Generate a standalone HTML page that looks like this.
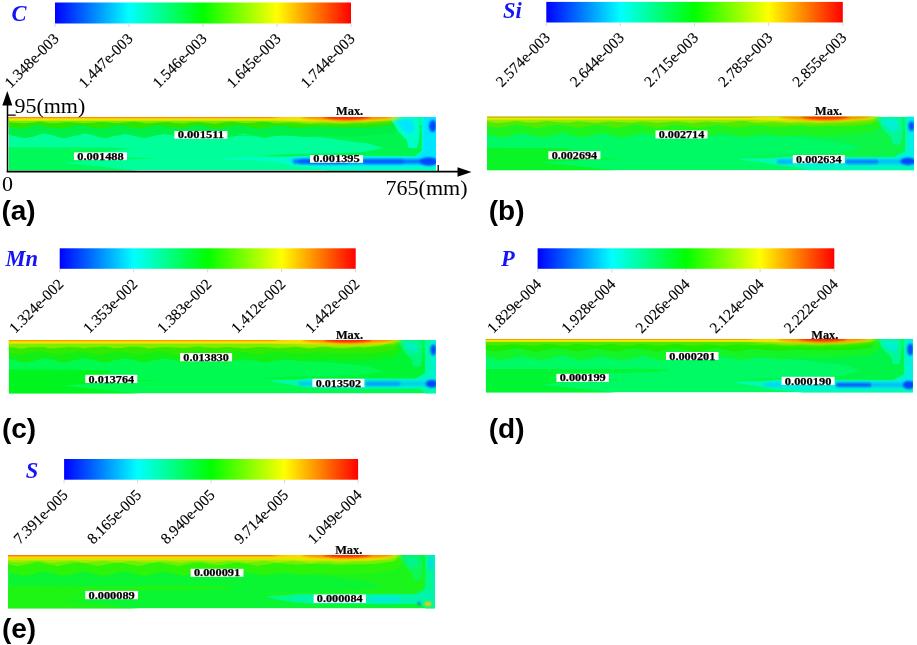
<!DOCTYPE html>
<html><head><meta charset="utf-8"><title>Figure</title>
<style>
html,body{margin:0;padding:0;background:#fff;}
body{width:917px;height:645px;overflow:hidden;}
svg{display:block;}
text{font-family:"Liberation Serif",serif;fill:#000;}
.el{font-weight:bold;font-style:italic;fill:#1414f5;}
.tk{font-size:15.3px;stroke:#000;stroke-width:0.15px;}
.ax{font-size:22px;}
.lb{font-size:11px;font-weight:bold;stroke:#000;stroke-width:0.25px;}
.mx{font-size:12.4px;font-weight:bold;stroke:#000;stroke-width:0.2px;}
.pl{font-family:"Liberation Sans",sans-serif;font-weight:bold;font-size:28px;}
</style></head><body>
<svg width="917" height="645" viewBox="0 0 917 645">
<defs>
<linearGradient id="rb" x1="0" x2="1" y1="0" y2="0">
<stop offset="0" stop-color="#0000ff"/><stop offset="0.25" stop-color="#00ffff"/><stop offset="0.5" stop-color="#00ff00"/><stop offset="0.75" stop-color="#ffff00"/><stop offset="1" stop-color="#ff0000"/>
</linearGradient>
<linearGradient id="fd" x1="0" x2="1" y1="0" y2="0"><stop offset="0" stop-color="#fff"/><stop offset="1" stop-color="#000"/></linearGradient>
<mask id="fade" maskContentUnits="objectBoundingBox"><rect width="1" height="1" fill="url(#fd)"/></mask>
<clipPath id="cp"><rect x="0" y="0" width="427" height="53.5"/></clipPath>
<filter id="b0" x="-20%" y="-50%" width="140%" height="200%"><feGaussianBlur stdDeviation="0.6"/></filter>
<filter id="b1" x="-30%" y="-80%" width="160%" height="260%"><feGaussianBlur stdDeviation="1.3"/></filter>
<filter id="b2" x="-30%" y="-80%" width="160%" height="260%"><feGaussianBlur stdDeviation="2.2"/></filter>

<linearGradient id="tga" x1="0" x2="0" y1="0" y2="1"><stop offset="0" stop-color="#ff6e00"/><stop offset="0.22" stop-color="#ffaa00"/><stop offset="0.45" stop-color="#f5e600"/><stop offset="0.8" stop-color="#d2eb00"/><stop offset="1" stop-color="#d2eb00" stop-opacity="0"/></linearGradient>
<linearGradient id="tgb" x1="0" x2="0" y1="0" y2="1"><stop offset="0" stop-color="#ff6e00"/><stop offset="0.22" stop-color="#ffaa00"/><stop offset="0.45" stop-color="#f5e600"/><stop offset="0.8" stop-color="#d2eb00"/><stop offset="1" stop-color="#d2eb00" stop-opacity="0"/></linearGradient>
<linearGradient id="tgc" x1="0" x2="0" y1="0" y2="1"><stop offset="0" stop-color="#ff6e00"/><stop offset="0.22" stop-color="#ffaa00"/><stop offset="0.45" stop-color="#f5e600"/><stop offset="0.8" stop-color="#d2eb00"/><stop offset="1" stop-color="#d2eb00" stop-opacity="0"/></linearGradient>
<linearGradient id="tgd" x1="0" x2="0" y1="0" y2="1"><stop offset="0" stop-color="#ff6e00"/><stop offset="0.22" stop-color="#ffaa00"/><stop offset="0.45" stop-color="#f5e600"/><stop offset="0.8" stop-color="#d2eb00"/><stop offset="1" stop-color="#d2eb00" stop-opacity="0"/></linearGradient>
<linearGradient id="tge" x1="0" x2="0" y1="0" y2="1"><stop offset="0" stop-color="#ff5000"/><stop offset="0.22" stop-color="#ffaa00"/><stop offset="0.45" stop-color="#ffd200"/><stop offset="0.8" stop-color="#d2eb00"/><stop offset="1" stop-color="#d2eb00" stop-opacity="0"/></linearGradient>
</defs>
<rect width="917" height="645" fill="#fff"/>
<rect x="55" y="2.5" width="296" height="21" fill="url(#rb)"/>
<text x="11.6" y="21.0" class="el" font-size="22.5">C</text>
<line x1="55.0" y1="23.5" x2="55.0" y2="27.0" stroke="#ccc" stroke-width="0.8"/>
<text class="tk" text-anchor="end" transform="translate(59.6,39.7) rotate(-45)">1.348e-003</text>
<line x1="129.0" y1="23.5" x2="129.0" y2="27.0" stroke="#ccc" stroke-width="0.8"/>
<text class="tk" text-anchor="end" transform="translate(133.6,39.7) rotate(-45)">1.447e-003</text>
<line x1="203.0" y1="23.5" x2="203.0" y2="27.0" stroke="#ccc" stroke-width="0.8"/>
<text class="tk" text-anchor="end" transform="translate(207.6,39.7) rotate(-45)">1.546e-003</text>
<line x1="277.0" y1="23.5" x2="277.0" y2="27.0" stroke="#ccc" stroke-width="0.8"/>
<text class="tk" text-anchor="end" transform="translate(281.6,39.7) rotate(-45)">1.645e-003</text>
<line x1="351.0" y1="23.5" x2="351.0" y2="27.0" stroke="#ccc" stroke-width="0.8"/>
<text class="tk" text-anchor="end" transform="translate(355.6,39.7) rotate(-45)">1.744e-003</text>
<g transform="translate(8.8,117)"><g clip-path="url(#cp)">
<rect x="0" y="0" width="427" height="53.5" fill="#00ff9b"/>
<path d="M-2.0,30.3 L102.0,30.6 L122.0,31.3 L108.0,33.3 L88.0,35.8 L70.0,38.8 L118.0,40.5 L150.0,41.3 L118.0,42.3 L85.0,43.8 L54.0,45.8 L90.0,49.3 L135.0,54.5 L-2.0,54.5 Z" fill="#00fa5a"/>
<path d="M212.0,19.0 L413.0,8.0 L413.5,38.5 L407.0,39.5 L292.0,40.0 L250.0,39.0 L281.0,37.0 L320.0,36.5 L355.0,35.0 L374.0,31.0 L360.0,26.5 L339.0,24.0 L316.0,20.8 L281.0,18.7 Z" fill="#00f550" filter="url(#b0)"/>
<path d="M-5.0,-2.0 L-5.0,16.6 L0.0,17.5 L5.0,18.9 L10.0,20.1 L15.0,21.3 L20.0,20.4 L25.0,19.5 L30.0,18.1 L35.0,16.5 L40.0,17.5 L45.0,18.4 L50.0,20.3 L55.0,21.5 L60.0,20.3 L65.0,19.1 L70.0,18.2 L75.0,16.6 L80.0,17.3 L85.0,18.5 L90.0,19.9 L95.0,21.2 L100.0,20.8 L105.0,19.0 L110.0,18.4 L115.0,16.9 L120.0,17.8 L125.0,19.0 L130.0,19.7 L135.0,21.3 L140.0,20.2 L145.0,18.9 L150.0,18.0 L155.0,17.0 L160.0,17.6 L165.0,18.5 L170.0,20.2 L175.0,21.4 L180.0,20.3 L185.0,19.2 L190.0,18.1 L195.0,17.1 L200.0,17.3 L205.0,18.8 L210.0,20.3 L215.0,21.2 L220.0,20.6 L225.0,19.4 L230.0,18.0 L235.0,16.7 L240.0,17.6 L245.0,18.8 L250.0,19.8 L255.0,21.1 L260.0,20.1 L265.0,19.2 L270.0,18.5 L275.0,17.8 L280.0,18.4 L285.0,19.0 L290.0,19.3 L295.0,20.3 L300.0,19.9 L305.0,19.2 L310.0,18.9 L315.0,18.4 L320.0,18.6 L325.0,19.0 L330.0,19.0 L335.0,19.7 L367.0,18.0 L385.0,16.0 L395.0,8.0 L393.0,-2.0 L393.0,-2.0 Z" fill="#00f046"/>
<path d="M-5.0,-2.0 L-5.0,8.9 L0.0,10.2 L5.0,10.8 L10.0,12.0 L15.0,11.1 L20.0,10.1 L25.0,9.1 L30.0,7.9 L35.0,9.4 L40.0,10.2 L45.0,10.8 L50.0,11.5 L55.0,10.9 L60.0,10.1 L65.0,9.3 L70.0,8.0 L75.0,9.0 L80.0,9.8 L85.0,10.8 L90.0,11.6 L95.0,11.2 L100.0,9.8 L105.0,9.1 L110.0,7.9 L115.0,9.3 L120.0,9.7 L125.0,10.6 L130.0,11.8 L135.0,11.2 L140.0,10.1 L145.0,9.3 L150.0,8.2 L155.0,9.4 L160.0,9.8 L165.0,10.6 L170.0,11.9 L175.0,10.9 L180.0,9.8 L185.0,8.8 L190.0,8.3 L195.0,8.9 L200.0,9.7 L205.0,11.2 L210.0,12.1 L215.0,10.7 L220.0,9.7 L225.0,9.3 L230.0,8.2 L235.0,9.3 L240.0,9.7 L245.0,11.2 L250.0,11.8 L255.0,11.0 L260.0,9.7 L265.0,9.3 L270.0,9.0 L275.0,9.1 L280.0,10.1 L285.0,10.5 L290.0,11.0 L295.0,10.5 L300.0,9.9 L305.0,9.9 L310.0,9.4 L315.0,9.8 L320.0,10.2 L325.0,10.3 L330.0,10.3 L335.0,10.5 L367.0,10.0 L385.0,7.5 L389.0,4.0 L387.0,-2.0 L387.0,-2.0 Z" fill="#2de600"/>
<path d="M-5.0,-2.0 L-5.0,5.2 L0.0,5.3 L5.0,5.8 L10.0,6.0 L15.0,6.2 L20.0,5.9 L25.0,5.4 L30.0,4.5 L35.0,5.1 L40.0,6.2 L45.0,6.2 L50.0,6.0 L55.0,5.3 L60.0,4.9 L65.0,5.4 L70.0,5.8 L75.0,6.2 L80.0,6.0 L85.0,5.7 L90.0,5.1 L95.0,4.9 L100.0,5.5 L105.0,6.1 L110.0,6.2 L115.0,5.6 L120.0,5.3 L125.0,4.4 L130.0,5.3 L135.0,6.0 L140.0,6.6 L145.0,5.9 L150.0,5.4 L155.0,5.2 L160.0,4.9 L165.0,5.9 L170.0,6.0 L175.0,6.5 L180.0,5.4 L185.0,5.3 L190.0,5.0 L195.0,5.4 L200.0,6.0 L205.0,6.8 L210.0,6.3 L215.0,5.2 L220.0,4.8 L225.0,4.8 L230.0,5.6 L235.0,6.0 L240.0,5.9 L245.0,5.7 L250.0,4.7 L255.0,4.7 L260.0,5.1 L265.0,6.3 L270.0,6.2 L275.0,5.5 L280.0,5.3 L285.0,4.9 L290.0,5.4 L295.0,5.9 L300.0,6.4 L305.0,6.2 L310.0,5.4 L315.0,5.2 L320.0,5.2 L325.0,5.9 L330.0,6.4 L335.0,6.5 L340.0,5.7 L345.0,5.2 L350.0,5.0 L355.0,5.4 L372.0,3.6 L383.0,2.0 L381.0,-2.0 L381.0,-2.0 Z" fill="#78eb00"/>
<path d="M381.0,1.0 L400.0,-1.0 L409.0,1.0 L411.0,12.0 L410.0,24.0 L408.0,31.0 L400.0,31.0 L398.0,23.0 L390.0,15.0 L385.0,7.0 Z" fill="#00ffc8" filter="url(#b0)" opacity="1.00"/>
<path d="M386.0,3.0 L404.0,2.5 L406.0,14.0 L399.0,17.0 L391.0,9.0 Z" fill="#00e6ff" filter="url(#b1)" opacity="1.00"/>
<path d="M216.0,41.1 L275.0,40.3 L290.0,38.9 L407.0,39.2 L413.0,33.5 L413.0,-2.0 L429.0,-2.0 L429.0,55.5 L327.0,55.5 L305.0,51.0 L285.0,49.0 L267.0,44.5 L216.0,41.9 Z" fill="#00ffc8" filter="url(#b0)"/>
<path d="M277.0,42.0 L293.0,40.3 L407.0,40.3 L414.5,34.5 L414.5,-2.0 L429.0,-2.0 L429.0,49.0 L310.0,49.0 L287.0,46.5 Z" fill="#00e6ff" filter="url(#b1)" opacity="1.00"/>
<rect x="284" y="42.3" width="146" height="4.4" rx="2" fill="#0078ff" filter="url(#b1)" opacity="1.0"/>
<rect x="290" y="42.3" width="50" height="4.4" rx="2" fill="#0050ff" filter="url(#b1)" opacity="0.7"/>
<rect x="355" y="42.3" width="40" height="4.4" rx="2" fill="#0050ff" filter="url(#b1)" opacity="0.6"/>
<ellipse cx="424" cy="9" rx="3.8" ry="6" fill="#0046ff" filter="url(#b1)" opacity="1.0"/>
<ellipse cx="420" cy="44.5" rx="9" ry="4" fill="#0046ff" filter="url(#b1)" opacity="1.0"/>

<rect x="0" y="0" width="365" height="4.2" fill="url(#tga)"/>
<rect x="364.8" y="0" width="24" height="4.2" fill="url(#tga)" mask="url(#fade)"/>
<ellipse cx="328" cy="-0.5" rx="64" ry="5.6" fill="#f5e600" filter="url(#b2)" opacity="0.95"/>
<ellipse cx="338" cy="-0.5" rx="46" ry="3.9" fill="#ff8c00" filter="url(#b1)"/>
<ellipse cx="338" cy="-0.8" rx="24" ry="3.5" fill="#ff2800" filter="url(#b1)"/>
</g>
<rect x="65.2" y="35.4" width="53" height="7.7" fill="#fff"/><text class="lb" x="91.7" y="42.7" text-anchor="middle" textLength="46.5" lengthAdjust="spacingAndGlyphs">0.001488</text>
<rect x="165.6" y="14.0" width="53" height="7.7" fill="#fff"/><text class="lb" x="192.1" y="21.3" text-anchor="middle" textLength="46.5" lengthAdjust="spacingAndGlyphs">0.001511</text>
<rect x="301.2" y="38.0" width="53" height="7.8" fill="#fff"/><text class="lb" x="327.7" y="45.4" text-anchor="middle" textLength="46.5" lengthAdjust="spacingAndGlyphs">0.001395</text>
<text class="mx" x="327.2" y="-2.2">Max.</text>
</g>
<path d="M7.5,172 L7.5,104" stroke="#000" stroke-width="1.5" fill="none"/>
<path d="M7.3,91 L2.3,105.5 L12.3,105.5 Z" fill="#000"/>
<path d="M6.7,171.6 L458,171.6" stroke="#000" stroke-width="1.6" fill="none"/>
<path d="M471.5,172 L457.5,167.3 L457.5,176.7 Z" fill="#000"/>
<path d="M7.5,115.2 L15.7,115.2 M438.2,165 L438.2,172" stroke="#000" stroke-width="1.3" fill="none"/>
<text class="ax" x="14.4" y="112.6">95(mm)</text>
<text class="ax" x="2" y="190.8">0</text>
<text class="ax" x="385.6" y="194.5">765(mm)</text>
<text class="pl" x="1.4" y="220.3">(a)</text>
<rect x="546.3" y="1.9" width="296.5" height="20.6" fill="url(#rb)"/>
<text x="503" y="17.7" class="el" font-size="22.5">Si</text>
<line x1="546.3" y1="22.5" x2="546.3" y2="26.0" stroke="#ccc" stroke-width="0.8"/>
<text class="tk" text-anchor="end" transform="translate(550.9,38.7) rotate(-45)">2.574e-003</text>
<line x1="620.4" y1="22.5" x2="620.4" y2="26.0" stroke="#ccc" stroke-width="0.8"/>
<text class="tk" text-anchor="end" transform="translate(625.0,38.7) rotate(-45)">2.644e-003</text>
<line x1="694.5" y1="22.5" x2="694.5" y2="26.0" stroke="#ccc" stroke-width="0.8"/>
<text class="tk" text-anchor="end" transform="translate(699.1,38.7) rotate(-45)">2.715e-003</text>
<line x1="768.7" y1="22.5" x2="768.7" y2="26.0" stroke="#ccc" stroke-width="0.8"/>
<text class="tk" text-anchor="end" transform="translate(773.3,38.7) rotate(-45)">2.785e-003</text>
<line x1="842.8" y1="22.5" x2="842.8" y2="26.0" stroke="#ccc" stroke-width="0.8"/>
<text class="tk" text-anchor="end" transform="translate(847.4,38.7) rotate(-45)">2.855e-003</text>
<g transform="translate(487,116.8)"><g clip-path="url(#cp)">
<rect x="0" y="0" width="427" height="53.5" fill="#00fa64"/>
<path d="M-2.0,31.0 L60.0,31.3 L80.0,32.0 L88.0,34.0 L76.0,36.5 L58.0,39.5 L106.0,41.2 L138.0,42.0 L106.0,43.0 L73.0,44.5 L54.0,45.8 L90.0,49.3 L135.0,54.5 L-2.0,54.5 Z" fill="#0af528"/>
<path d="M212.0,18.5 L418.0,8.0 L418.5,39.5 L407.0,40.5 L292.0,41.0 L250.0,40.0 L281.0,38.0 L320.0,37.5 L355.0,36.0 L374.0,31.0 L360.0,26.5 L339.0,24.0 L316.0,20.3 L281.0,18.2 Z" fill="#0af546" filter="url(#b0)"/>
<path d="M-5.0,-2.0 L-5.0,16.4 L0.0,16.8 L5.0,18.6 L10.0,19.8 L15.0,20.6 L20.0,20.1 L25.0,18.5 L30.0,17.3 L35.0,16.2 L40.0,17.2 L45.0,18.1 L50.0,19.8 L55.0,20.4 L60.0,19.7 L65.0,18.5 L70.0,17.7 L75.0,16.2 L80.0,17.0 L85.0,18.1 L90.0,19.6 L95.0,20.6 L100.0,19.7 L105.0,18.7 L110.0,17.4 L115.0,16.1 L120.0,17.3 L125.0,18.4 L130.0,19.6 L135.0,20.9 L140.0,19.9 L145.0,18.7 L150.0,17.5 L155.0,16.3 L160.0,17.2 L165.0,17.9 L170.0,19.4 L175.0,20.7 L180.0,19.8 L185.0,18.4 L190.0,17.7 L195.0,16.0 L200.0,17.1 L205.0,18.0 L210.0,19.1 L215.0,20.4 L220.0,19.6 L225.0,18.5 L230.0,17.7 L235.0,16.5 L240.0,17.0 L245.0,18.4 L250.0,19.4 L255.0,20.4 L260.0,19.9 L265.0,18.6 L270.0,18.1 L275.0,17.2 L280.0,17.7 L285.0,18.0 L290.0,18.7 L295.0,19.2 L300.0,19.0 L305.0,18.9 L310.0,18.4 L315.0,18.1 L320.0,17.9 L325.0,18.6 L330.0,18.9 L335.0,19.3 L367.0,17.5 L385.0,15.5 L395.0,8.0 L393.0,-2.0 L393.0,-2.0 Z" fill="#1ef51e"/>
<path d="M-5.0,-2.0 L-5.0,8.5 L0.0,9.7 L5.0,10.3 L10.0,11.0 L15.0,10.4 L20.0,9.7 L25.0,8.7 L30.0,7.4 L35.0,8.6 L40.0,9.3 L45.0,10.1 L50.0,11.6 L55.0,10.5 L60.0,9.4 L65.0,8.8 L70.0,7.9 L75.0,8.3 L80.0,9.4 L85.0,10.3 L90.0,11.0 L95.0,10.6 L100.0,9.8 L105.0,8.6 L110.0,7.9 L115.0,8.6 L120.0,9.4 L125.0,10.4 L130.0,11.5 L135.0,10.2 L140.0,9.5 L145.0,8.3 L150.0,7.7 L155.0,8.7 L160.0,9.4 L165.0,10.1 L170.0,11.6 L175.0,10.6 L180.0,9.7 L185.0,8.4 L190.0,8.0 L195.0,8.6 L200.0,9.3 L205.0,10.3 L210.0,11.0 L215.0,10.6 L220.0,9.8 L225.0,8.9 L230.0,7.9 L235.0,8.6 L240.0,9.4 L245.0,10.5 L250.0,10.8 L255.0,10.0 L260.0,9.5 L265.0,8.7 L270.0,8.6 L275.0,9.0 L280.0,9.2 L285.0,10.1 L290.0,10.1 L295.0,10.3 L300.0,9.6 L305.0,9.4 L310.0,8.8 L315.0,8.9 L320.0,9.7 L325.0,9.9 L330.0,9.8 L335.0,9.5 L367.0,9.5 L385.0,7.0 L389.0,4.0 L387.0,-2.0 L387.0,-2.0 Z" fill="#50eb00"/>
<path d="M-5.0,-2.0 L-5.0,4.8 L0.0,4.5 L5.0,5.4 L10.0,6.1 L15.0,5.7 L20.0,5.5 L25.0,4.6 L30.0,4.2 L35.0,4.9 L40.0,5.7 L45.0,5.9 L50.0,5.6 L55.0,4.9 L60.0,4.2 L65.0,4.7 L70.0,5.2 L75.0,5.8 L80.0,6.0 L85.0,5.5 L90.0,4.4 L95.0,4.9 L100.0,5.2 L105.0,6.0 L110.0,6.2 L115.0,5.4 L120.0,4.7 L125.0,4.6 L130.0,5.2 L135.0,5.5 L140.0,5.7 L145.0,5.9 L150.0,5.3 L155.0,4.8 L160.0,5.0 L165.0,5.5 L170.0,5.9 L175.0,5.8 L180.0,5.3 L185.0,4.8 L190.0,4.6 L195.0,5.1 L200.0,5.8 L205.0,6.1 L210.0,5.6 L215.0,5.3 L220.0,4.6 L225.0,5.1 L230.0,5.5 L235.0,5.6 L240.0,5.7 L245.0,5.1 L250.0,4.5 L255.0,4.3 L260.0,4.8 L265.0,5.6 L270.0,6.2 L275.0,5.7 L280.0,5.2 L285.0,4.4 L290.0,4.5 L295.0,5.2 L300.0,5.7 L305.0,5.9 L310.0,5.0 L315.0,4.7 L320.0,4.6 L325.0,5.3 L330.0,6.0 L335.0,6.0 L340.0,5.0 L345.0,4.8 L350.0,4.3 L355.0,5.3 L372.0,3.2 L383.0,2.0 L381.0,-2.0 L381.0,-2.0 Z" fill="#96eb00"/>
<path d="M388.9,1.0 L406.0,-1.0 L414.1,1.0 L415.9,10.9 L415.0,21.7 L413.2,28.0 L406.0,28.0 L404.2,20.8 L397.0,13.6 L392.5,6.4 Z" fill="#00fab4" filter="url(#b0)" opacity="0.72"/>
<path d="M393.4,2.8 L409.6,2.4 L411.4,12.7 L405.1,15.4 L397.9,8.2 Z" fill="#00ebfa" filter="url(#b1)" opacity="0.60"/>
<path d="M253.0,42.1 L283.0,41.3 L298.0,39.9 L407.0,40.2 L418.0,34.5 L418.0,-2.0 L429.0,-2.0 L429.0,55.5 L327.0,55.5 L313.0,51.0 L293.0,49.0 L275.0,45.5 L253.0,42.9 Z" fill="#00fab4" filter="url(#b0)"/>
<path d="M285.0,43.0 L301.0,41.3 L407.0,41.3 L421.0,35.5 L421.0,-2.0 L429.0,-2.0 L429.0,49.0 L318.0,49.0 L295.0,46.5 Z" fill="#00ebfa" filter="url(#b1)" opacity="0.69"/>
<rect x="358" y="42.8" width="34" height="4.4" rx="2" fill="#0078ff" filter="url(#b1)" opacity="0.9"/>
<rect x="290" y="42.8" width="16" height="4.4" rx="2" fill="#00a0ff" filter="url(#b1)" opacity="0.7"/>
<rect x="392" y="42.8" width="38" height="4.4" rx="2" fill="#00a0ff" filter="url(#b1)" opacity="0.6"/>
<ellipse cx="424.5" cy="9.5" rx="3" ry="5" fill="#0050ff" filter="url(#b1)" opacity="1.0"/>
<ellipse cx="421" cy="44.5" rx="7.5" ry="3.6" fill="#0046ff" filter="url(#b1)" opacity="1.0"/>

<rect x="0" y="0" width="365" height="3.3" fill="url(#tgb)"/>
<rect x="364.8" y="0" width="24" height="3.3" fill="url(#tgb)" mask="url(#fade)"/>
<ellipse cx="328" cy="-0.5" rx="64" ry="5.6" fill="#f5e600" filter="url(#b2)" opacity="0.95"/>
<ellipse cx="338" cy="-0.5" rx="46" ry="3.9" fill="#ff8c00" filter="url(#b1)"/>
<ellipse cx="338" cy="-0.8" rx="24" ry="3.5" fill="#ff2800" filter="url(#b1)"/>
</g>
<rect x="61.4" y="34.4" width="52" height="8" fill="#fff"/><text class="lb" x="87.4" y="42.0" text-anchor="middle" textLength="45.5" lengthAdjust="spacingAndGlyphs">0.002694</text>
<rect x="168.5" y="13.7" width="52" height="8" fill="#fff"/><text class="lb" x="194.5" y="21.3" text-anchor="middle" textLength="45.5" lengthAdjust="spacingAndGlyphs">0.002714</text>
<rect x="305.8" y="38.2" width="52" height="8.2" fill="#fff"/><text class="lb" x="331.8" y="46.0" text-anchor="middle" textLength="45.5" lengthAdjust="spacingAndGlyphs">0.002634</text>
<text class="mx" x="328.0" y="-1.4">Max.</text>
</g>
<text class="pl" x="488.8" y="220.1">(b)</text>
<rect x="59.7" y="248.3" width="296" height="20.5" fill="url(#rb)"/>
<text x="5.5" y="265.9" class="el" font-size="22.5">Mn</text>
<line x1="59.7" y1="268.8" x2="59.7" y2="272.3" stroke="#ccc" stroke-width="0.8"/>
<text class="tk" text-anchor="end" transform="translate(64.3,285.0) rotate(-45)">1.324e-002</text>
<line x1="133.7" y1="268.8" x2="133.7" y2="272.3" stroke="#ccc" stroke-width="0.8"/>
<text class="tk" text-anchor="end" transform="translate(138.3,285.0) rotate(-45)">1.353e-002</text>
<line x1="207.7" y1="268.8" x2="207.7" y2="272.3" stroke="#ccc" stroke-width="0.8"/>
<text class="tk" text-anchor="end" transform="translate(212.3,285.0) rotate(-45)">1.383e-002</text>
<line x1="281.7" y1="268.8" x2="281.7" y2="272.3" stroke="#ccc" stroke-width="0.8"/>
<text class="tk" text-anchor="end" transform="translate(286.3,285.0) rotate(-45)">1.412e-002</text>
<line x1="355.7" y1="268.8" x2="355.7" y2="272.3" stroke="#ccc" stroke-width="0.8"/>
<text class="tk" text-anchor="end" transform="translate(360.3,285.0) rotate(-45)">1.442e-002</text>
<g transform="translate(8.9,339.9)"><g clip-path="url(#cp)">
<rect x="0" y="0" width="427" height="53.5" fill="#00fa50"/>
<path d="M-2.0,29.7 L80.0,30.0 L100.0,30.7 L102.0,32.7 L90.0,35.2 L72.0,38.2 L120.0,39.9 L152.0,40.7 L120.0,41.7 L87.0,43.2 L54.0,45.8 L90.0,49.3 L135.0,54.5 L-2.0,54.5 Z" fill="#00f51e"/>
<path d="M212.0,20.5 L416.0,8.0 L416.5,38.0 L407.0,39.0 L292.0,39.5 L250.0,38.5 L281.0,36.5 L320.0,36.0 L355.0,34.5 L374.0,31.0 L360.0,26.5 L339.0,24.0 L316.0,22.3 L281.0,20.2 Z" fill="#05f532" filter="url(#b0)"/>
<path d="M-5.0,-2.0 L-5.0,18.1 L0.0,19.1 L5.0,20.0 L10.0,21.6 L15.0,22.7 L20.0,21.9 L25.0,20.8 L30.0,19.6 L35.0,18.0 L40.0,19.1 L45.0,20.3 L50.0,21.5 L55.0,22.9 L60.0,22.1 L65.0,20.7 L70.0,19.3 L75.0,18.1 L80.0,19.3 L85.0,20.4 L90.0,21.5 L95.0,22.6 L100.0,21.9 L105.0,20.5 L110.0,19.6 L115.0,18.1 L120.0,19.1 L125.0,20.4 L130.0,21.6 L135.0,22.5 L140.0,21.7 L145.0,20.6 L150.0,19.7 L155.0,18.3 L160.0,19.2 L165.0,20.2 L170.0,21.4 L175.0,22.9 L180.0,21.7 L185.0,20.5 L190.0,19.6 L195.0,18.4 L200.0,19.0 L205.0,20.3 L210.0,21.4 L215.0,22.8 L220.0,22.2 L225.0,21.0 L230.0,19.6 L235.0,18.3 L240.0,19.4 L245.0,20.2 L250.0,21.5 L255.0,22.6 L260.0,21.8 L265.0,20.6 L270.0,20.0 L275.0,19.1 L280.0,19.9 L285.0,20.4 L290.0,21.0 L295.0,21.9 L300.0,21.1 L305.0,20.5 L310.0,20.5 L315.0,20.2 L320.0,19.9 L325.0,20.1 L330.0,21.0 L335.0,21.3 L367.0,19.5 L385.0,17.5 L395.0,8.0 L393.0,-2.0 L393.0,-2.0 Z" fill="#14f014"/>
<path d="M-5.0,-2.0 L-5.0,12.0 L0.0,12.8 L5.0,13.7 L10.0,14.6 L15.0,14.1 L20.0,12.8 L25.0,12.0 L30.0,11.3 L35.0,12.1 L40.0,13.3 L45.0,13.9 L50.0,14.7 L55.0,14.0 L60.0,12.8 L65.0,12.4 L70.0,11.1 L75.0,12.0 L80.0,13.1 L85.0,13.7 L90.0,14.9 L95.0,14.1 L100.0,12.9 L105.0,12.4 L110.0,11.2 L115.0,12.3 L120.0,13.0 L125.0,13.8 L130.0,14.6 L135.0,13.6 L140.0,12.8 L145.0,12.4 L150.0,11.2 L155.0,12.1 L160.0,13.3 L165.0,14.0 L170.0,15.1 L175.0,13.8 L180.0,12.8 L185.0,12.4 L190.0,11.0 L195.0,12.3 L200.0,13.1 L205.0,14.2 L210.0,15.1 L215.0,14.0 L220.0,12.7 L225.0,11.8 L230.0,11.2 L235.0,12.3 L240.0,12.7 L245.0,13.8 L250.0,14.3 L255.0,13.6 L260.0,12.7 L265.0,12.2 L270.0,11.7 L275.0,12.2 L280.0,13.2 L285.0,13.2 L290.0,13.7 L295.0,13.3 L300.0,12.9 L305.0,12.8 L310.0,12.3 L315.0,12.9 L320.0,13.3 L325.0,13.0 L330.0,13.7 L335.0,13.3 L367.0,13.0 L385.0,10.5 L389.0,4.0 L387.0,-2.0 L387.0,-2.0 Z" fill="#32eb00"/>
<path d="M-5.0,-2.0 L-5.0,7.1 L0.0,7.3 L5.0,7.3 L10.0,8.5 L15.0,8.5 L20.0,7.4 L25.0,7.4 L30.0,7.0 L35.0,7.2 L40.0,8.3 L45.0,8.4 L50.0,7.9 L55.0,7.5 L60.0,6.9 L65.0,7.3 L70.0,7.6 L75.0,8.3 L80.0,7.9 L85.0,7.4 L90.0,7.0 L95.0,6.6 L100.0,7.4 L105.0,8.3 L110.0,8.2 L115.0,7.8 L120.0,6.9 L125.0,6.9 L130.0,7.0 L135.0,7.6 L140.0,8.6 L145.0,8.0 L150.0,7.5 L155.0,7.0 L160.0,7.0 L165.0,7.5 L170.0,7.9 L175.0,8.0 L180.0,7.5 L185.0,7.0 L190.0,6.7 L195.0,7.6 L200.0,7.7 L205.0,8.2 L210.0,7.8 L215.0,7.1 L220.0,7.0 L225.0,7.5 L230.0,7.9 L235.0,8.6 L240.0,8.2 L245.0,7.6 L250.0,7.0 L255.0,7.0 L260.0,7.3 L265.0,8.1 L270.0,8.3 L275.0,7.9 L280.0,7.5 L285.0,6.8 L290.0,7.0 L295.0,7.9 L300.0,8.5 L305.0,8.1 L310.0,7.2 L315.0,6.6 L320.0,7.1 L325.0,7.8 L330.0,8.2 L335.0,8.4 L340.0,7.7 L345.0,7.4 L350.0,6.6 L355.0,7.6 L372.0,5.6 L383.0,2.0 L381.0,-2.0 L381.0,-2.0 Z" fill="#82eb00"/>
<path d="M388.4,1.0 L404.5,-1.0 L412.1,1.0 L413.9,10.3 L413.0,20.6 L411.3,26.5 L404.5,26.5 L402.8,19.7 L396.0,12.9 L391.8,6.1 Z" fill="#00faaa" filter="url(#b0)" opacity="0.60"/>
<path d="M392.6,2.7 L407.9,2.3 L409.6,12.0 L403.6,14.6 L396.9,7.8 Z" fill="#00ebf0" filter="url(#b1)" opacity="0.50"/>
<path d="M262.0,40.6 L285.0,39.8 L300.0,38.4 L407.0,38.7 L416.0,33.0 L416.0,-2.0 L429.0,-2.0 L429.0,55.5 L418.0,55.5 L412.0,48.6 L315.0,48.6 L295.0,47.0 L277.0,44.0 L262.0,41.4 Z" fill="#00faaa" filter="url(#b0)"/>
<path d="M287.0,41.5 L303.0,39.8 L407.0,39.8 L422.0,34.0 L422.0,-2.0 L429.0,-2.0 L429.0,48.0 L320.0,48.0 L297.0,45.5 Z" fill="#00ebf0" filter="url(#b1)" opacity="0.57"/>
<rect x="356" y="41.6" width="36" height="4.4" rx="2" fill="#0096ff" filter="url(#b1)" opacity="0.85"/>
<rect x="290" y="41.6" width="14" height="4.4" rx="2" fill="#00b4ff" filter="url(#b1)" opacity="0.6"/>
<rect x="392" y="41.6" width="38" height="4.4" rx="2" fill="#00b4ff" filter="url(#b1)" opacity="0.5"/>
<ellipse cx="424.5" cy="10" rx="3" ry="5.5" fill="#0050ff" filter="url(#b1)" opacity="1.0"/>
<ellipse cx="423" cy="44" rx="6" ry="3.8" fill="#0046ff" filter="url(#b1)" opacity="1.0"/>

<rect x="0" y="0" width="365" height="4.4" fill="url(#tgc)"/>
<rect x="364.8" y="0" width="24" height="4.4" fill="url(#tgc)" mask="url(#fade)"/>
<ellipse cx="329" cy="-0.5" rx="64" ry="5.6" fill="#f5e600" filter="url(#b2)" opacity="0.95"/>
<ellipse cx="339" cy="-0.5" rx="46" ry="3.9" fill="#ff8c00" filter="url(#b1)"/>
<ellipse cx="339" cy="-0.8" rx="24" ry="3.5" fill="#ff2800" filter="url(#b1)"/>
</g>
<rect x="76.4" y="34.9" width="52" height="8.2" fill="#fff"/><text class="lb" x="102.4" y="42.7" text-anchor="middle" textLength="45.5" lengthAdjust="spacingAndGlyphs">0.013764</text>
<rect x="171.2" y="13.2" width="52" height="8.2" fill="#fff"/><text class="lb" x="197.2" y="21.0" text-anchor="middle" textLength="45.5" lengthAdjust="spacingAndGlyphs">0.013830</text>
<rect x="303.5" y="38.9" width="52" height="8.3" fill="#fff"/><text class="lb" x="329.5" y="46.8" text-anchor="middle" textLength="45.5" lengthAdjust="spacingAndGlyphs">0.013502</text>
<text class="mx" x="327.0" y="-1.2">Max.</text>
</g>
<text class="pl" x="1.9" y="437.7">(c)</text>
<rect x="537.6" y="248.3" width="296.7" height="20.5" fill="url(#rb)"/>
<text x="501" y="265.9" class="el" font-size="22.5">P</text>
<line x1="537.6" y1="268.8" x2="537.6" y2="272.3" stroke="#ccc" stroke-width="0.8"/>
<text class="tk" text-anchor="end" transform="translate(542.2,285.0) rotate(-45)">1.829e-004</text>
<line x1="611.8" y1="268.8" x2="611.8" y2="272.3" stroke="#ccc" stroke-width="0.8"/>
<text class="tk" text-anchor="end" transform="translate(616.4,285.0) rotate(-45)">1.928e-004</text>
<line x1="686.0" y1="268.8" x2="686.0" y2="272.3" stroke="#ccc" stroke-width="0.8"/>
<text class="tk" text-anchor="end" transform="translate(690.6,285.0) rotate(-45)">2.026e-004</text>
<line x1="760.1" y1="268.8" x2="760.1" y2="272.3" stroke="#ccc" stroke-width="0.8"/>
<text class="tk" text-anchor="end" transform="translate(764.7,285.0) rotate(-45)">2.124e-004</text>
<line x1="834.3" y1="268.8" x2="834.3" y2="272.3" stroke="#ccc" stroke-width="0.8"/>
<text class="tk" text-anchor="end" transform="translate(838.9,285.0) rotate(-45)">2.222e-004</text>
<g transform="translate(485.9,338.9)"><g clip-path="url(#cp)">
<rect x="0" y="0" width="427" height="53.5" fill="#00fa64"/>
<path d="M-2.0,30.0 L165.0,30.3 L185.0,31.0 L171.0,33.0 L80.0,35.5 L62.0,38.5 L110.0,40.2 L142.0,41.0 L110.0,42.0 L77.0,43.5 L54.0,45.8 L90.0,49.3 L135.0,54.5 L-2.0,54.5 Z" fill="#00f532"/>
<path d="M212.0,19.2 L418.0,8.0 L418.5,40.5 L407.0,41.5 L292.0,42.0 L250.0,41.0 L281.0,39.0 L320.0,38.5 L355.0,37.0 L374.0,31.0 L360.0,26.5 L339.0,24.0 L316.0,21.0 L281.0,18.9 Z" fill="#05f546" filter="url(#b0)"/>
<path d="M-5.0,-2.0 L-5.0,17.4 L0.0,17.7 L5.0,19.1 L10.0,20.3 L15.0,21.2 L20.0,20.3 L25.0,19.5 L30.0,18.0 L35.0,17.0 L40.0,18.0 L45.0,19.2 L50.0,19.9 L55.0,21.1 L60.0,20.4 L65.0,19.7 L70.0,17.9 L75.0,16.8 L80.0,17.5 L85.0,18.7 L90.0,20.2 L95.0,21.1 L100.0,20.6 L105.0,19.6 L110.0,18.4 L115.0,17.0 L120.0,18.0 L125.0,19.0 L130.0,20.4 L135.0,21.2 L140.0,20.5 L145.0,19.5 L150.0,18.6 L155.0,17.1 L160.0,17.7 L165.0,18.8 L170.0,20.0 L175.0,21.2 L180.0,21.0 L185.0,19.7 L190.0,18.5 L195.0,17.1 L200.0,17.9 L205.0,18.8 L210.0,20.1 L215.0,21.1 L220.0,20.6 L225.0,19.3 L230.0,18.0 L235.0,17.3 L240.0,17.5 L245.0,19.2 L250.0,20.2 L255.0,20.8 L260.0,20.4 L265.0,19.7 L270.0,18.9 L275.0,17.8 L280.0,18.5 L285.0,19.2 L290.0,19.6 L295.0,20.3 L300.0,19.9 L305.0,19.2 L310.0,19.1 L315.0,18.5 L320.0,19.0 L325.0,18.8 L330.0,19.4 L335.0,19.4 L367.0,18.2 L385.0,16.2 L395.0,8.0 L393.0,-2.0 L393.0,-2.0 Z" fill="#14f528"/>
<path d="M-5.0,-2.0 L-5.0,9.9 L0.0,11.0 L5.0,12.1 L10.0,12.9 L15.0,12.1 L20.0,11.0 L25.0,10.3 L30.0,9.2 L35.0,9.8 L40.0,11.0 L45.0,11.6 L50.0,13.1 L55.0,12.2 L60.0,10.9 L65.0,10.0 L70.0,9.4 L75.0,9.9 L80.0,10.8 L85.0,11.7 L90.0,12.7 L95.0,12.0 L100.0,11.3 L105.0,9.9 L110.0,9.5 L115.0,10.1 L120.0,11.3 L125.0,12.1 L130.0,12.6 L135.0,12.0 L140.0,10.7 L145.0,9.8 L150.0,9.1 L155.0,10.3 L160.0,11.0 L165.0,11.7 L170.0,13.0 L175.0,12.2 L180.0,10.8 L185.0,10.1 L190.0,9.3 L195.0,10.4 L200.0,10.7 L205.0,11.9 L210.0,13.1 L215.0,12.0 L220.0,11.2 L225.0,10.3 L230.0,9.2 L235.0,10.0 L240.0,11.1 L245.0,11.9 L250.0,12.5 L255.0,12.0 L260.0,10.9 L265.0,10.3 L270.0,9.9 L275.0,10.6 L280.0,11.3 L285.0,11.6 L290.0,11.8 L295.0,11.7 L300.0,11.3 L305.0,10.8 L310.0,10.6 L315.0,10.8 L320.0,11.0 L325.0,11.3 L330.0,11.2 L335.0,11.3 L367.0,11.0 L385.0,8.5 L389.0,4.0 L387.0,-2.0 L387.0,-2.0 Z" fill="#1eeb00"/>
<path d="M-5.0,-2.0 L-5.0,5.1 L0.0,5.5 L5.0,6.3 L10.0,6.7 L15.0,6.7 L20.0,6.0 L25.0,5.3 L30.0,5.6 L35.0,6.0 L40.0,6.2 L45.0,7.0 L50.0,6.5 L55.0,6.1 L60.0,5.1 L65.0,5.4 L70.0,5.9 L75.0,6.7 L80.0,6.9 L85.0,6.2 L90.0,5.2 L95.0,5.2 L100.0,5.6 L105.0,6.2 L110.0,6.8 L115.0,6.0 L120.0,5.5 L125.0,4.9 L130.0,5.6 L135.0,6.5 L140.0,6.6 L145.0,6.5 L150.0,5.8 L155.0,5.2 L160.0,5.3 L165.0,6.2 L170.0,6.8 L175.0,6.8 L180.0,6.4 L185.0,5.7 L190.0,5.1 L195.0,5.6 L200.0,6.4 L205.0,7.0 L210.0,6.5 L215.0,6.1 L220.0,5.4 L225.0,5.9 L230.0,6.2 L235.0,6.8 L240.0,6.8 L245.0,6.0 L250.0,5.6 L255.0,5.6 L260.0,5.9 L265.0,6.3 L270.0,6.7 L275.0,6.3 L280.0,5.7 L285.0,5.1 L290.0,5.6 L295.0,6.4 L300.0,6.9 L305.0,6.8 L310.0,6.2 L315.0,5.0 L320.0,5.4 L325.0,6.2 L330.0,6.6 L335.0,6.8 L340.0,5.9 L345.0,5.5 L350.0,5.5 L355.0,5.9 L372.0,4.0 L383.0,2.0 L381.0,-2.0 L381.0,-2.0 Z" fill="#46eb00"/>
<path d="M391.8,1.0 L407.0,-1.0 L414.2,1.0 L415.8,9.8 L415.0,19.4 L413.4,25.0 L407.0,25.0 L405.4,18.6 L399.0,12.2 L395.0,5.8 Z" fill="#00fab4" filter="url(#b0)" opacity="0.72"/>
<path d="M395.8,2.6 L410.2,2.2 L411.8,11.4 L406.2,13.8 L399.8,7.4 Z" fill="#00ebf5" filter="url(#b1)" opacity="0.60"/>
<path d="M250.0,43.1 L275.0,42.3 L290.0,40.9 L407.0,41.2 L418.0,35.5 L418.0,-2.0 L429.0,-2.0 L429.0,55.5 L327.0,55.5 L305.0,52.0 L285.0,50.0 L267.0,46.5 L250.0,43.9 Z" fill="#00fab4" filter="url(#b0)"/>
<path d="M277.0,44.0 L293.0,42.3 L407.0,42.3 L421.0,36.5 L421.0,-2.0 L429.0,-2.0 L429.0,50.0 L310.0,50.0 L287.0,47.5 Z" fill="#00ebf5" filter="url(#b1)" opacity="0.69"/>
<rect x="350" y="43.8" width="36" height="4.4" rx="2" fill="#005aff" filter="url(#b1)" opacity="0.95"/>
<rect x="386" y="43.8" width="44" height="4.4" rx="2" fill="#00a0ff" filter="url(#b1)" opacity="0.6"/>
<rect x="278" y="43.8" width="18" height="4.4" rx="2" fill="#00c8ff" filter="url(#b1)" opacity="0.6"/>
<ellipse cx="424.5" cy="10.5" rx="3.2" ry="6" fill="#0050ff" filter="url(#b1)" opacity="1.0"/>
<ellipse cx="423" cy="46" rx="6" ry="4" fill="#0046ff" filter="url(#b1)" opacity="1.0"/>

<rect x="0" y="0" width="365" height="3.6" fill="url(#tgd)"/>
<rect x="364.8" y="0" width="24" height="3.6" fill="url(#tgd)" mask="url(#fade)"/>
<ellipse cx="327" cy="-0.5" rx="64" ry="5.6" fill="#f5e600" filter="url(#b2)" opacity="0.95"/>
<ellipse cx="337" cy="-0.5" rx="46" ry="3.9" fill="#ff8c00" filter="url(#b1)"/>
<ellipse cx="337" cy="-0.8" rx="24" ry="3.5" fill="#ff2800" filter="url(#b1)"/>
</g>
<rect x="70.5" y="34.9" width="52.5" height="8.1" fill="#fff"/><text class="lb" x="96.8" y="42.6" text-anchor="middle" textLength="46.0" lengthAdjust="spacingAndGlyphs">0.000199</text>
<rect x="180.1" y="13.1" width="52.5" height="8" fill="#fff"/><text class="lb" x="206.4" y="20.7" text-anchor="middle" textLength="46.0" lengthAdjust="spacingAndGlyphs">0.000201</text>
<rect x="295.7" y="37.9" width="53" height="8.2" fill="#fff"/><text class="lb" x="322.2" y="45.7" text-anchor="middle" textLength="46.5" lengthAdjust="spacingAndGlyphs">0.000190</text>
<text class="mx" x="325.3" y="-0.4">Max.</text>
</g>
<text class="pl" x="488.8" y="437.5">(d)</text>
<rect x="64.1" y="459" width="294" height="20.7" fill="url(#rb)"/>
<text x="25.7" y="477.6" class="el" font-size="22.5">S</text>
<line x1="64.1" y1="479.7" x2="64.1" y2="483.2" stroke="#ccc" stroke-width="0.8"/>
<text class="tk" text-anchor="end" transform="translate(68.7,495.9) rotate(-45)">7.391e-005</text>
<line x1="137.6" y1="479.7" x2="137.6" y2="483.2" stroke="#ccc" stroke-width="0.8"/>
<text class="tk" text-anchor="end" transform="translate(142.2,495.9) rotate(-45)">8.165e-005</text>
<line x1="211.1" y1="479.7" x2="211.1" y2="483.2" stroke="#ccc" stroke-width="0.8"/>
<text class="tk" text-anchor="end" transform="translate(215.7,495.9) rotate(-45)">8.940e-005</text>
<line x1="284.6" y1="479.7" x2="284.6" y2="483.2" stroke="#ccc" stroke-width="0.8"/>
<text class="tk" text-anchor="end" transform="translate(289.2,495.9) rotate(-45)">9.714e-005</text>
<line x1="358.1" y1="479.7" x2="358.1" y2="483.2" stroke="#ccc" stroke-width="0.8"/>
<text class="tk" text-anchor="end" transform="translate(362.7,495.9) rotate(-45)">1.049e-004</text>
<g transform="translate(8.05,554.9)"><g clip-path="url(#cp)">
<rect x="0" y="0" width="427" height="53.5" fill="#0af532"/>
<path d="M-2.0,31.0 L210.0,31.3 L230.0,32.0 L216.0,34.0 L84.0,36.5 L66.0,39.5 L114.0,41.2 L146.0,42.0 L114.0,43.0 L81.0,44.5 L54.0,45.8 L90.0,49.3 L135.0,54.5 L-2.0,54.5 Z" fill="#1ef514"/>
<path d="M212.0,18.8 L417.0,8.0 L417.5,38.5 L407.0,39.5 L292.0,40.0 L250.0,39.0 L281.0,37.0 L320.0,36.5 L355.0,35.0 L374.0,31.0 L360.0,26.5 L339.0,24.0 L316.0,20.6 L281.0,18.5 Z" fill="#1ef51e" filter="url(#b0)"/>
<path d="M-5.0,-2.0 L-5.0,17.0 L0.0,17.6 L5.0,18.7 L10.0,19.6 L15.0,20.8 L20.0,20.4 L25.0,19.3 L30.0,17.5 L35.0,16.4 L40.0,17.6 L45.0,18.3 L50.0,19.9 L55.0,20.8 L60.0,20.3 L65.0,19.3 L70.0,17.9 L75.0,16.6 L80.0,17.2 L85.0,18.6 L90.0,19.8 L95.0,20.9 L100.0,20.2 L105.0,19.1 L110.0,17.7 L115.0,16.4 L120.0,17.4 L125.0,18.3 L130.0,19.8 L135.0,21.2 L140.0,20.5 L145.0,18.9 L150.0,17.8 L155.0,16.9 L160.0,17.3 L165.0,18.9 L170.0,19.5 L175.0,21.2 L180.0,19.9 L185.0,19.2 L190.0,18.1 L195.0,16.7 L200.0,17.5 L205.0,18.8 L210.0,20.1 L215.0,20.7 L220.0,20.3 L225.0,18.7 L230.0,17.8 L235.0,16.4 L240.0,17.1 L245.0,18.7 L250.0,19.4 L255.0,20.4 L260.0,19.6 L265.0,19.2 L270.0,17.9 L275.0,17.1 L280.0,18.0 L285.0,18.8 L290.0,19.4 L295.0,19.9 L300.0,19.4 L305.0,19.0 L310.0,18.3 L315.0,18.4 L320.0,18.6 L325.0,19.0 L330.0,19.3 L335.0,19.6 L367.0,17.8 L385.0,15.8 L395.0,8.0 L393.0,-2.0 L393.0,-2.0 Z" fill="#2df50a"/>
<path d="M-5.0,-2.0 L-5.0,8.4 L0.0,9.0 L5.0,10.4 L10.0,11.3 L15.0,10.1 L20.0,9.3 L25.0,8.1 L30.0,7.2 L35.0,8.2 L40.0,9.3 L45.0,9.9 L50.0,11.3 L55.0,9.8 L60.0,9.0 L65.0,8.0 L70.0,7.6 L75.0,8.2 L80.0,9.2 L85.0,10.0 L90.0,11.1 L95.0,10.0 L100.0,9.0 L105.0,8.3 L110.0,7.3 L115.0,8.0 L120.0,9.4 L125.0,10.2 L130.0,11.1 L135.0,10.4 L140.0,9.1 L145.0,8.2 L150.0,7.3 L155.0,8.2 L160.0,9.3 L165.0,9.8 L170.0,11.0 L175.0,10.1 L180.0,9.1 L185.0,8.0 L190.0,7.5 L195.0,8.0 L200.0,9.2 L205.0,9.9 L210.0,10.7 L215.0,9.9 L220.0,8.9 L225.0,8.1 L230.0,7.5 L235.0,8.5 L240.0,9.1 L245.0,10.2 L250.0,10.8 L255.0,10.0 L260.0,9.5 L265.0,8.4 L270.0,8.2 L275.0,8.7 L280.0,9.3 L285.0,9.4 L290.0,9.9 L295.0,9.3 L300.0,9.1 L305.0,9.2 L310.0,8.9 L315.0,9.2 L320.0,8.9 L325.0,9.6 L330.0,9.8 L335.0,9.6 L367.0,9.2 L385.0,6.7 L389.0,4.0 L387.0,-2.0 L387.0,-2.0 Z" fill="#6ef000"/>
<path d="M-5.0,-2.0 L-5.0,5.9 L0.0,6.5 L5.0,7.1 L10.0,7.3 L15.0,7.3 L20.0,6.7 L25.0,6.1 L30.0,5.8 L35.0,6.4 L40.0,7.4 L45.0,7.5 L50.0,6.9 L55.0,6.9 L60.0,6.3 L65.0,6.1 L70.0,6.8 L75.0,7.8 L80.0,7.3 L85.0,6.9 L90.0,6.4 L95.0,6.2 L100.0,6.4 L105.0,7.4 L110.0,7.8 L115.0,7.0 L120.0,6.4 L125.0,6.1 L130.0,6.8 L135.0,7.3 L140.0,7.4 L145.0,7.4 L150.0,6.7 L155.0,6.5 L160.0,6.6 L165.0,6.8 L170.0,7.6 L175.0,7.7 L180.0,6.6 L185.0,6.3 L190.0,6.3 L195.0,6.4 L200.0,7.1 L205.0,7.8 L210.0,7.0 L215.0,6.8 L220.0,5.8 L225.0,6.4 L230.0,6.9 L235.0,7.1 L240.0,7.6 L245.0,7.0 L250.0,6.5 L255.0,5.9 L260.0,6.7 L265.0,7.0 L270.0,7.8 L275.0,7.1 L280.0,6.7 L285.0,5.6 L290.0,6.3 L295.0,6.7 L300.0,7.9 L305.0,7.4 L310.0,6.4 L315.0,6.3 L320.0,6.2 L325.0,6.7 L330.0,7.6 L335.0,7.6 L340.0,6.9 L345.0,6.2 L350.0,5.9 L355.0,6.5 L372.0,4.8 L383.0,2.0 L381.0,-2.0 L381.0,-2.0 Z" fill="#aaeb00"/>
<path d="M390.8,1.0 L406.0,-1.0 L413.2,1.0 L414.8,9.8 L414.0,19.4 L412.4,25.0 L406.0,25.0 L404.4,18.6 L398.0,12.2 L394.0,5.8 Z" fill="#00fa8c" filter="url(#b0)" opacity="0.54"/>
<path d="M394.8,2.6 L409.2,2.2 L410.8,11.4 L405.2,13.8 L398.8,7.4 Z" fill="#00f0c8" filter="url(#b1)" opacity="0.45"/>
<path d="M260.0,41.1 L277.0,40.3 L292.0,38.9 L407.0,39.2 L417.0,33.5 L417.0,-2.0 L429.0,-2.0 L429.0,55.5 L419.0,55.5 L413.0,49.1 L307.0,49.1 L287.0,47.5 L269.0,44.5 L260.0,41.9 Z" fill="#00fa8c" filter="url(#b0)"/>
<path d="M279.0,42.0 L295.0,40.3 L407.0,40.3 L423.5,34.5 L423.5,-2.0 L429.0,-2.0 L429.0,48.5 L312.0,48.5 L289.0,46.0 Z" fill="#00f0c8" filter="url(#b1)" opacity="0.52"/>
<rect x="362" y="42.1" width="30" height="4.4" rx="2" fill="#00e6f0" filter="url(#b1)" opacity="0.8"/>
<ellipse cx="423" cy="8" rx="2.5" ry="7" fill="#00dcf0" filter="url(#b1)" opacity="0.9"/>
<ellipse cx="420" cy="49" rx="3.5" ry="2.2" fill="#ffc800" filter="url(#b1)" opacity="1.0"/>
<ellipse cx="411" cy="48.5" rx="1.3" ry="1.8" fill="#0064ff" filter="url(#b1)" opacity="0.9"/>

<rect x="0" y="0" width="365" height="5.6" fill="url(#tge)"/>
<rect x="364.8" y="0" width="24" height="5.6" fill="url(#tge)" mask="url(#fade)"/>
<ellipse cx="329" cy="-0.5" rx="64" ry="5.6" fill="#f5e600" filter="url(#b2)" opacity="0.95"/>
<ellipse cx="339" cy="-0.5" rx="46" ry="3.9" fill="#ff8c00" filter="url(#b1)"/>
<ellipse cx="339" cy="-0.8" rx="24" ry="3.5" fill="#ff2800" filter="url(#b1)"/>
</g>
<rect x="77.2" y="36.0" width="52.8" height="8.3" fill="#fff"/><text class="lb" x="103.6" y="43.9" text-anchor="middle" textLength="46.3" lengthAdjust="spacingAndGlyphs">0.000089</text>
<rect x="182.6" y="13.9" width="52.8" height="8" fill="#fff"/><text class="lb" x="209.0" y="21.5" text-anchor="middle" textLength="46.3" lengthAdjust="spacingAndGlyphs">0.000091</text>
<rect x="305.6" y="39.6" width="52.3" height="8.4" fill="#fff"/><text class="lb" x="331.7" y="47.6" text-anchor="middle" textLength="45.8" lengthAdjust="spacingAndGlyphs">0.000084</text>
<text class="mx" x="327.1" y="-1.2">Max.</text>
</g>
<text class="pl" x="1.9" y="637.5">(e)</text>
</svg>
</body></html>
